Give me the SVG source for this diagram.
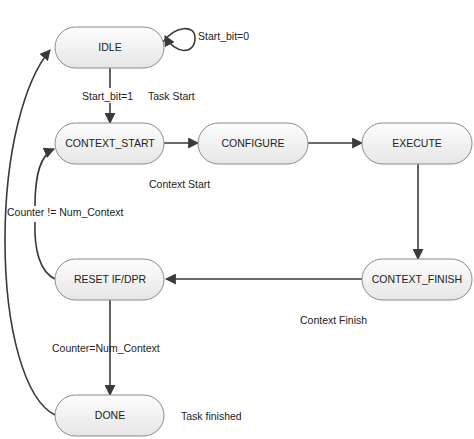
<svg xmlns="http://www.w3.org/2000/svg" width="474" height="439" viewBox="0 0 474 439">
<style>
.node rect,.node path{fill:url(#g);stroke:#8a8a8a;stroke-width:1}
text{font-family:"Liberation Sans",Arial,sans-serif;font-size:10.5px;fill:#222}
.node text{text-anchor:middle}
.c{fill:none;stroke:#3a3a3a;stroke-width:1.6}
.a{marker-end:url(#m)}
</style>
<defs>
<linearGradient id="g" x1="0" y1="0" x2="0" y2="1">
<stop offset="0" stop-color="#fdfdfd"/>
<stop offset="1" stop-color="#e6e6e6"/>
</linearGradient>
<marker id="m" viewBox="0 0 10 10" refX="9" refY="5" markerWidth="11" markerHeight="11" markerUnits="userSpaceOnUse" orient="auto">
<path d="M0,0 L10,5 L0,10 z" fill="#3a3a3a"/>
</marker>
</defs>
<rect width="474" height="439" fill="#fff"/>
<g id="connectors">
<path class="c" d="M110,68 V88"/>
<path class="c a" d="M110,103 V123"/>
<path class="c a" d="M163,42 C175,26 195,24 195,38 C195,55 175,55 165,36"/>
<path class="c a" d="M164,143 H198"/>
<path class="c a" d="M308,143 H362"/>
<path class="c a" d="M418,164 V259"/>
<path class="c a" d="M362,279 H166"/>
<path class="c a" d="M110,300 V395"/>
<path class="c" d="M55,279 C40,272 34,250 35,222"/>
<path class="c a" d="M35,206 C35,175 40,155 54,149"/>
<path class="c a" d="M55,415 C25,400 5,330 5,240 C5,150 25,80 50,50"/>
</g>
<g id="idle" class="node"><rect x="55" y="27" width="109" height="41" rx="20.5"/><text x="110" y="51">IDLE</text></g>
<g id="context_start" class="node"><rect x="55" y="123" width="109" height="41" rx="20.5"/><text x="110" y="147">CONTEXT_START</text></g>
<g id="configure" class="node"><rect x="198" y="123" width="110" height="41" rx="20.5"/><text x="253" y="147">CONFIGURE</text></g>
<g id="execute" class="node"><rect x="362" y="123" width="110" height="41" rx="20.5"/><text x="417" y="147">EXECUTE</text></g>
<g id="context_finish" class="node"><rect x="362" y="259" width="110" height="41" rx="20.5"/><text x="417" y="283">CONTEXT_FINISH</text></g>
<g id="reset" class="node"><rect x="55" y="259" width="109" height="41" rx="20.5"/><text x="110" y="283">RESET IF/DPR</text></g>
<g id="done" class="node"><rect x="55" y="395" width="109" height="41" rx="20.5"/><text x="110" y="419">DONE</text></g>
<g id="labels">
<text x="198" y="40">Start_bit=0</text>
<text x="82" y="100">Start_bit=1</text>
<text x="148" y="100">Task Start</text>
<text x="149" y="188">Context Start</text>
<text x="7" y="216">Counter != Num_Context</text>
<text x="300" y="324">Context Finish</text>
<text x="52" y="352">Counter=Num_Context</text>
<text x="181" y="420">Task finished</text>
</g>
</svg>
